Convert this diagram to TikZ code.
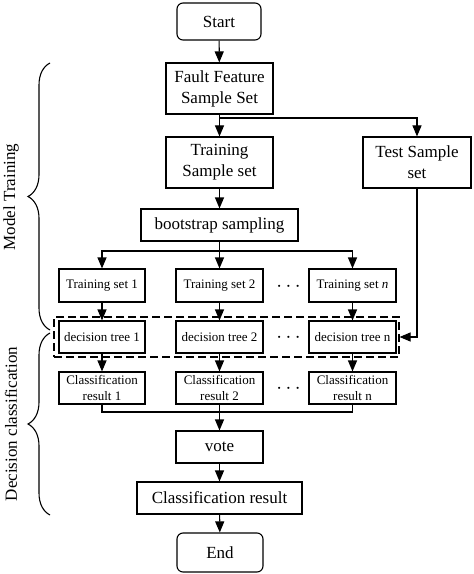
\documentclass[tikz,border=0pt]{standalone}
\usepackage{fontspec}
\setmainfont{Liberation Serif}
\usetikzlibrary{arrows.meta,decorations.pathreplacing}
\begin{document}
\begin{tikzpicture}[x=1bp,y=-1bp,
  box/.style={draw,line width=1.1bp,inner sep=1bp,align=center,font=\fontsize{17bp}{21bp}\selectfont},
  sbox/.style={draw,line width=1.1bp,inner sep=1bp,align=center,font=\fontsize{13bp}{16bp}\selectfont,minimum height=33bp},
  term/.style={box,rounded corners=6bp},
  line/.style={line width=1.1bp},
  arr/.style={line,-{Triangle[length=11bp,width=9bp]}},
  dashbox/.style={draw,line width=1.1bp,dash pattern=on 8bp off 4bp},
  dotsn/.style={font=\fontsize{21bp}{21bp}\selectfont,inner sep=0pt},
  lab/.style={rotate=90,font=\fontsize{17bp}{21bp}\selectfont,inner sep=0pt},
  brc/.style={line width=1.1bp,decorate,decoration={brace,amplitude=22bp}}
]
\useasboundingbox (0,0) rectangle (474,574);
% nodes
\node[term,minimum width=84bp,minimum height=37bp] (start) at (219,21.5) {Start};
\node[box,minimum width=107bp,minimum height=51bp] (fault) at (219.5,88.5) {Fault Feature\\Sample Set};
\node[box,minimum width=107bp,minimum height=51bp] (train) at (219.5,162.5) {Training\\Sample set};
\node[box,minimum width=108bp,minimum height=51bp] (test) at (417,162.5) {Test Sample\\set};
\node[box,minimum width=157bp,minimum height=32bp] (boot) at (219.5,225) {bootstrap sampling};
\node[sbox,minimum width=86bp] (ts1) at (102,285.5) {Training set 1};
\node[sbox,minimum width=87bp] (ts2) at (219.5,285.5) {Training set 2};
\node[sbox,minimum width=87bp] (tsn) at (352.5,285.5) {Training set \textit{n}};
\node[sbox,minimum width=86bp,minimum height=32bp] (dt1) at (102,337) {decision tree 1};
\node[sbox,minimum width=87bp,minimum height=32bp] (dt2) at (219.5,337) {decision tree 2};
\node[sbox,minimum width=87bp,minimum height=32bp] (dtn) at (352.5,337) {decision tree n};
\node[sbox,minimum width=86bp,minimum height=32bp] (cr1) at (102,388) {Classification\\result 1};
\node[sbox,minimum width=87bp,minimum height=32bp] (cr2) at (219.5,388) {Classification\\result 2};
\node[sbox,minimum width=87bp,minimum height=32bp] (crn) at (352.5,388) {Classification\\result n};
\node[box,minimum width=87bp,minimum height=32bp] (vote) at (219.5,447) {vote};
\node[box,minimum width=165bp,minimum height=32bp] (cres) at (219.5,498) {Classification result};
\node[term,minimum width=86bp,minimum height=39bp] (end) at (220,552.5) {End};
\node[dashbox,minimum width=345bp,minimum height=40bp,inner sep=0pt] (dash) at (226.5,337) {};
% dots
\node[dotsn] (d1) at (288.5,287) {$\cdots$};
\node[dotsn] (d2) at (288.5,338) {$\cdots$};
\node[dotsn] (d3) at (288.5,389) {$\cdots$};
% coordinates
\coordinate (b1) at (219.5,118);
\coordinate (b2) at (219.5,251);
\coordinate (m) at (219.5,412);
% connectors
\draw[arr] (start) -- (fault);
\draw[arr] (fault) -- (train);
\draw[arr] (b1) -| (test.north);
\draw[arr] (train) -- (boot);
\draw[arr] (boot) -- (ts2);
\draw[arr] (b2) -| (ts1.north);
\draw[arr] (b2) -| (tsn.north);
\draw[arr] (ts1) -- (dt1);
\draw[arr] (ts2) -- (dt2);
\draw[arr] (tsn) -- (dtn);
\draw[arr] (dt1) -- (cr1);
\draw[arr] (dt2) -- (cr2);
\draw[arr] (dtn) -- (crn);
\draw[arr] (test.south) |- (dash.east);
\draw[line] (cr1.south) |- (m) -| (crn.south);
\draw[arr] (cr2) -- (vote);
\draw[arr] (vote) -- (cres);
\draw[arr] (cres) -- (end);
% braces
\coordinate (mt1) at (50,330);
\coordinate (mt2) at (50,63);
\coordinate (dc1) at (50,515);
\coordinate (dc2) at (50,333);
\draw[brc] (mt1) -- (mt2);
\draw[brc] (dc1) -- (dc2);
\node[lab] (mtl) at (11,197) {Model Training};
\node[lab] (dcl) at (11,424) {Decision classification};
\end{tikzpicture}
\end{document}
